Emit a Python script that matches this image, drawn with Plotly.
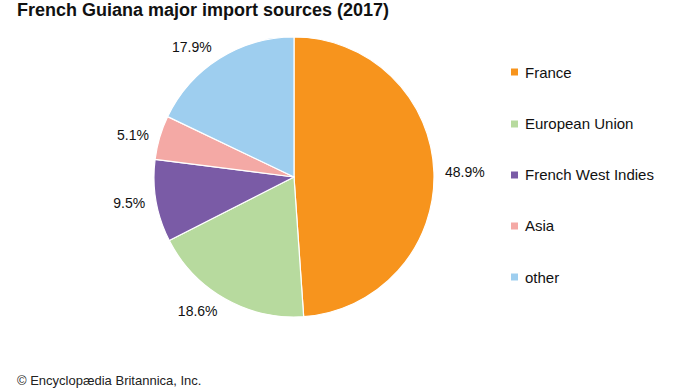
import plotly.graph_objects as go

categories = ["France", "European Union", "French West Indies", "Asia", "other"]
values = [48.9, 18.6, 9.5, 5.1, 17.9]
colors = ["#F7941D", "#B7DA9E", "#7A5BA6", "#F4A9A5", "#9ECEEF"]

W, H = 690, 388
cx, cy, r = 294, 177, 140
r_lab = 147


def dom(rad):
    return dict(x=[(cx - rad) / W, (cx + rad) / W], y=[(H - cy - rad) / H, (H - cy + rad) / H])


fig = go.Figure()
fig.add_trace(go.Pie(
    labels=categories, values=values, sort=False, direction="clockwise", rotation=0,
    marker=dict(colors=colors, line=dict(color="white", width=1.2)),
    textinfo="none", domain=dom(r), showlegend=False, hoverinfo="label+percent",
))
# label ring: same slices, transparent, slightly larger radius so labels sit further out
fig.add_trace(go.Pie(
    labels=categories, values=values, sort=False, direction="clockwise", rotation=0,
    marker=dict(colors=["rgba(0,0,0,0)"] * len(values), line=dict(width=0)),
    texttemplate="%{value:.1f}%", textposition="outside",
    textfont=dict(family="Liberation Sans, Arial", size=14, color="#111"),
    domain=dom(r_lab), showlegend=False, hoverinfo="skip",
))

shapes = []
annotations = []
legend_y = [72, 124, 175, 226, 277]
for cat, col, yy in zip(categories, colors, legend_y):
    shapes.append(dict(type="rect", xref="paper", yref="paper",
                       x0=511 / W, x1=518 / W, y0=(H - yy - 3.5) / H, y1=(H - yy + 3.5) / H,
                       fillcolor=col, line=dict(width=0)))
    annotations.append(dict(text=cat, x=523 / W, y=(H - yy) / H, xref="paper", yref="paper",
                            xanchor="left", yanchor="middle", showarrow=False,
                            font=dict(family="Liberation Sans, Arial", size=15, color="#111")))

annotations.append(dict(text="<b>French Guiana major import sources (2017)</b>", x=15 / W, y=(H - 10) / H,
                        xref="paper", yref="paper", xanchor="left", yanchor="middle", showarrow=False,
                        font=dict(family="Liberation Sans, Arial", size=18, color="#111")))
annotations.append(dict(text="© Encyclopædia Britannica, Inc.", x=15 / W, y=(H - 380) / H,
                        xref="paper", yref="paper", xanchor="left", yanchor="middle", showarrow=False,
                        font=dict(family="Liberation Sans, Arial", size=13, color="#222")))

fig.update_layout(width=W, height=H, margin=dict(l=0, r=0, t=0, b=0),
                  paper_bgcolor="white", plot_bgcolor="white",
                  shapes=shapes, annotations=annotations)
fig.write_html("out.html", config={"displayModeBar": False},
               post_script="document.body.style.margin='0';document.body.style.overflow='hidden';")
